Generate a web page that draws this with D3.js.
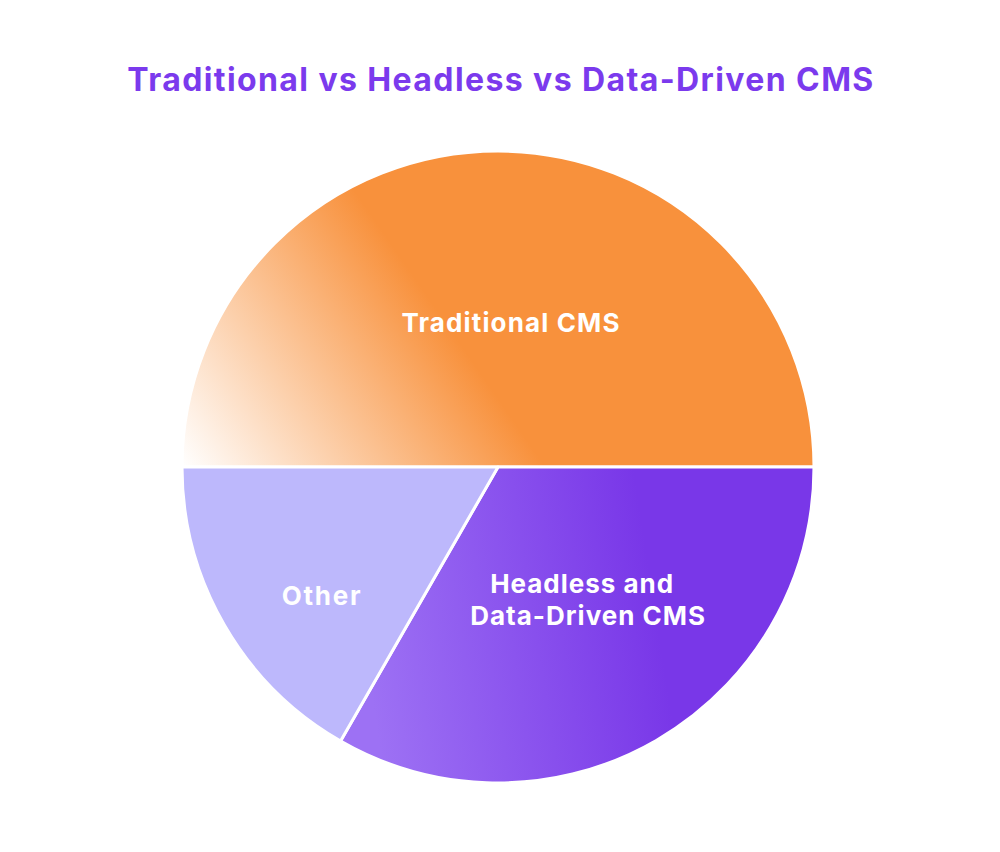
<!DOCTYPE html>
<html>
<head>
<meta charset="utf-8">
<script src="https://cdn.jsdelivr.net/npm/d3@7"></script>
<style>
  html, body { margin: 0; padding: 0; background: #ffffff; }
  svg { display: block; }
</style>
</head>
<body>
<svg id="chart" width="1000" height="852"></svg>
<script>
const title = "Traditional vs Headless vs Data-Driven CMS";
const categories = ["Traditional CMS", "Headless and Data-Driven CMS", "Other"];
const labelLines = [["Traditional CMS"], ["Headless and", "Data-Driven CMS"], ["Other"]];
const values = [50, 33.3, 16.7];

const W = 1000, H = 852;
const cx = 498, cy = 467, R = 316;
const FONT = "Inter, Roboto, 'Open Sans', sans-serif";

const svg = d3.select("#chart");
const defs = svg.append("defs");

// Gradient coordinates are in the pie group's local space (origin = pie centre)
const gO = defs.append("linearGradient").attr("id", "gOrange")
  .attr("gradientUnits", "userSpaceOnUse")
  .attr("x1", -R).attr("y1", 0)
  .attr("x2", -70).attr("y2", -170);
gO.append("stop").attr("offset", 0).attr("stop-color", "#ffffff");
gO.append("stop").attr("offset", 1).attr("stop-color", "#f8913c");

const gP = defs.append("linearGradient").attr("id", "gPurple")
  .attr("gradientUnits", "userSpaceOnUse")
  .attr("x1", -140).attr("y1", 140)
  .attr("x2", 150).attr("y2", 95);
gP.append("stop").attr("offset", 0).attr("stop-color", "#9d71f4");
gP.append("stop").attr("offset", 1).attr("stop-color", "#7937e8");

const fills = ["url(#gOrange)", "url(#gPurple)", "#bdb8fc"];

function fitWidth(sel, target) {
  const node = sel.node();
  const n = node.getNumberOfChars();
  const len = node.getComputedTextLength();
  if (n > 1) sel.attr("letter-spacing", ((target - len) / (n - 1)).toFixed(2));
}

const titleText = svg.append("text")
  .attr("x", W / 2 + 1).attr("y", 91)
  .attr("text-anchor", "middle")
  .attr("font-family", FONT)
  .attr("font-weight", 700)
  .attr("font-size", 32)
  .attr("fill", "#7b3aed")
  .text(title);
fitWidth(titleText, 746);

const pie = d3.pie().sort(null).value(d => d)
  .startAngle(-Math.PI / 2).endAngle(1.5 * Math.PI);
const arcs = pie(values);
const arc = d3.arc().innerRadius(0).outerRadius(R);

const g = svg.append("g").attr("transform", `translate(${cx},${cy})`);

g.selectAll("path.slice").data(arcs).join("path")
  .attr("class", "slice")
  .attr("d", arc)
  .attr("fill", (d, i) => fills[i])
  .attr("stroke", "#ffffff")
  .attr("stroke-width", 3)
  .attr("stroke-linejoin", "round");

const labelRadius = [0.46, 0.5, 0.68];
const labelShift = [[13, 2], [8, -3], [10, 22]];
const labelWidths = [[218], [183, 235], [79]];
const lineH = 32;

arcs.forEach((a, i) => {
  const la = d3.arc().innerRadius(R * labelRadius[i]).outerRadius(R * labelRadius[i]);
  const [x, y] = la.centroid(a);
  const lines = labelLines[i];
  lines.forEach((ln, k) => {
    const t = g.append("text")
      .attr("text-anchor", "middle")
      .attr("font-family", FONT)
      .attr("font-weight", 700)
      .attr("font-size", 26)
      .attr("fill", "#ffffff")
      .attr("x", x + labelShift[i][0] + (lines.length > 1 ? (k === 0 ? -3 : 3) : 0))
      .attr("y", y + labelShift[i][1] + (k - (lines.length - 1) / 2) * lineH + 8)
      .text(ln);
    fitWidth(t, labelWidths[i][k]);
  });
});
</script>
</body>
</html>
